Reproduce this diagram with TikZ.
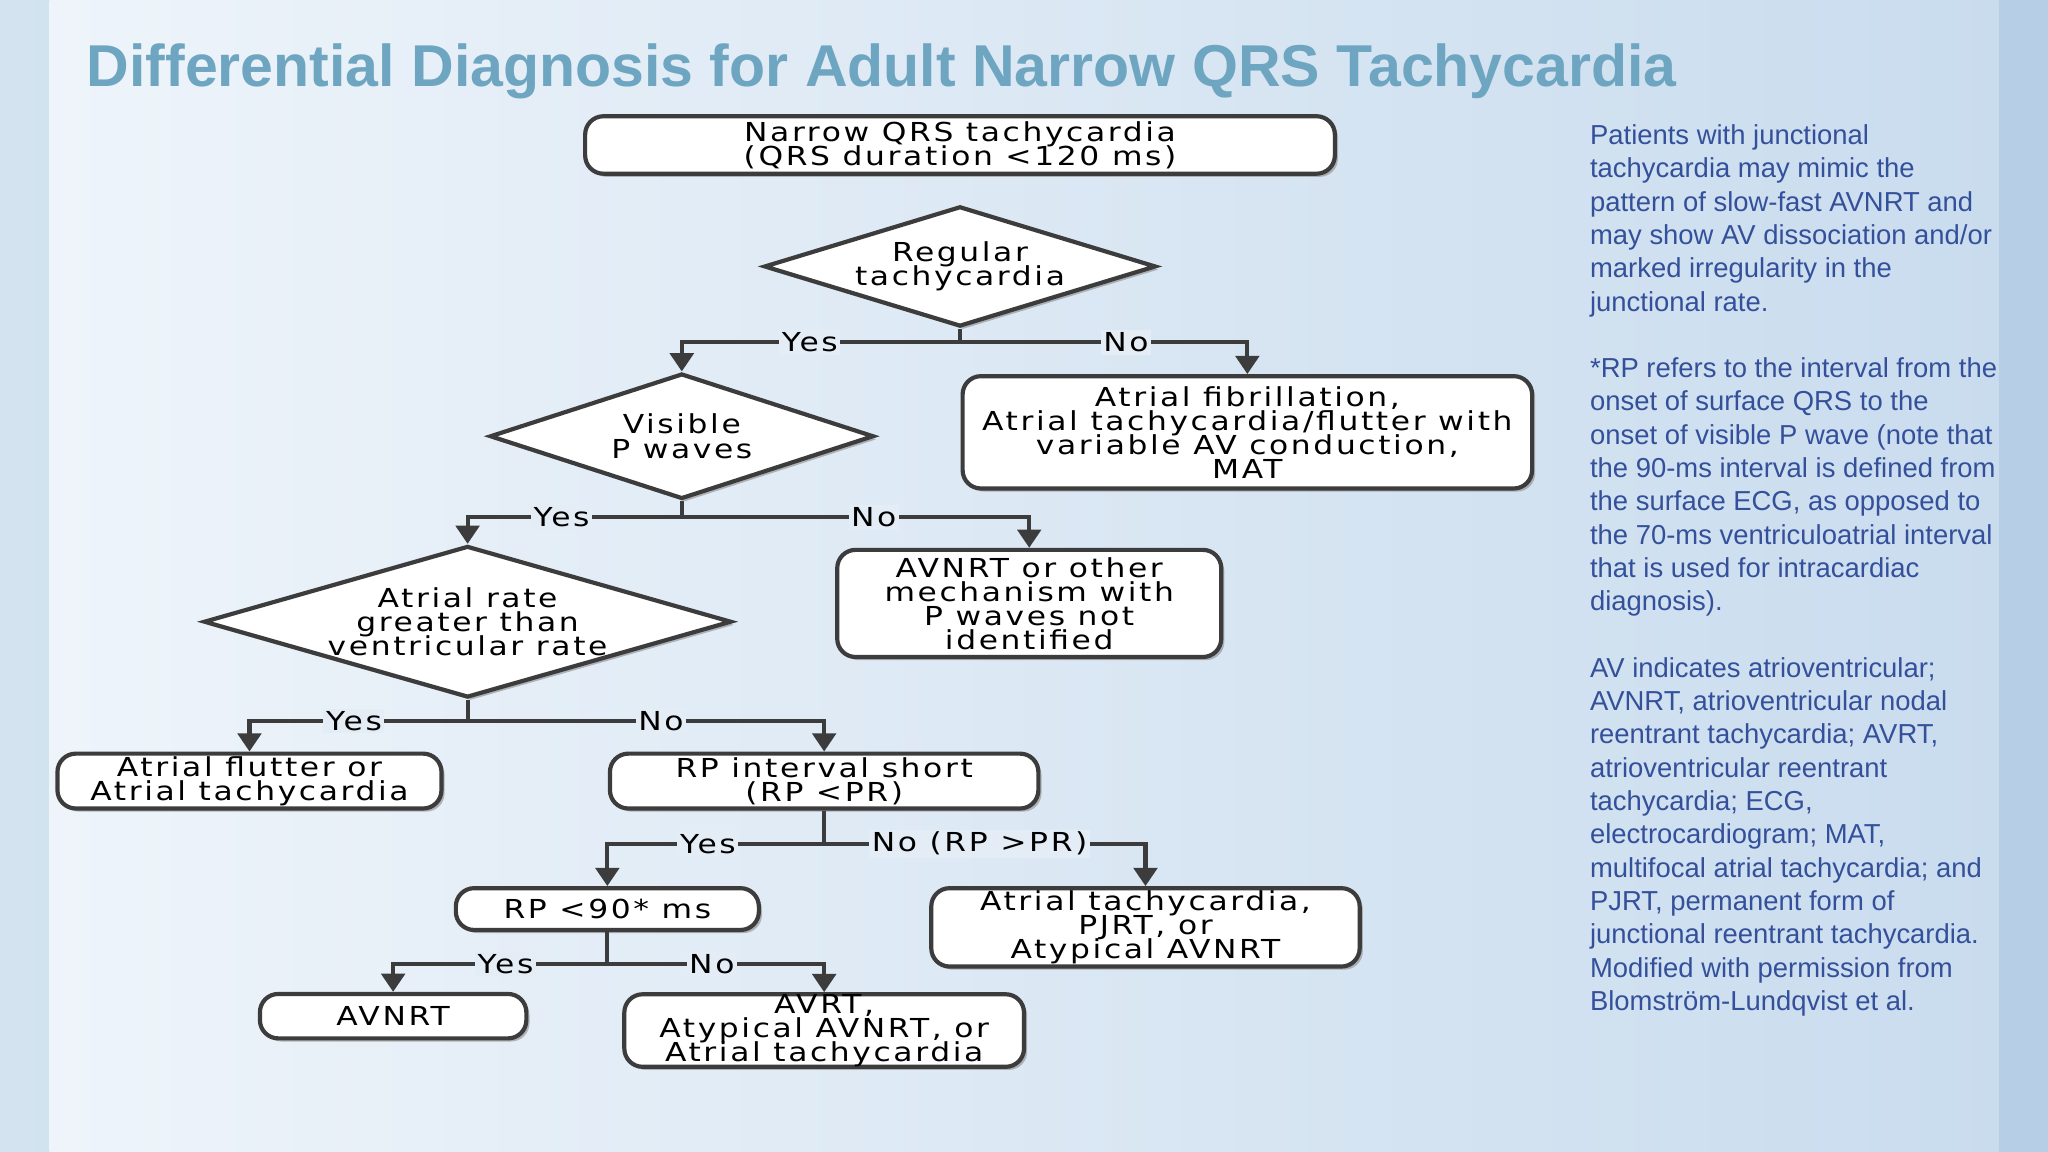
\documentclass[tikz,border=0pt]{standalone}
\usepackage{fontspec}
\setmainfont{Liberation Sans}
\newfontfamily\boxfont[LetterSpace=10,FakeStretch=1.2]{DejaVu Sans}
\newcommand{\myboxfnt}{\boxfont\fontsize{10}{9.2}\selectfont\lineskiplimit=-20pt\relax\lineskip=0pt\relax}
\usetikzlibrary{shapes.geometric,arrows.meta,shadows}
\definecolor{bgA}{HTML}{D3E3F0}
\definecolor{bgB}{HTML}{B6CFE6}
\definecolor{panA}{HTML}{EEF4FA}
\definecolor{panB}{HTML}{C9DCEE}
\definecolor{titlec}{HTML}{6EA6C2}
\definecolor{txtc}{HTML}{34509A}
\definecolor{linec}{HTML}{3C3C3C}
\definecolor{lblbg}{HTML}{E4EDF6}
\tikzset{
  base/.style={draw=linec, line width=1.6pt, fill=white, align=center,
    font=\myboxfnt, inner sep=0pt,
    drop shadow={shadow xshift=1.2pt, shadow yshift=-1.2pt, fill=black!45, opacity=0.6}},
  rbox/.style={base, rectangle, rounded corners=7pt},
  conn/.style={draw=linec, line width=1.6pt},
  arr/.style={conn, -{Triangle[length=7pt,width=9pt]}},
  lbl/.style={fill=lblbg, inner sep=1pt, font=\myboxfnt}
}
\begin{document}
\begin{tikzpicture}[x=0.5pt,y=-0.5pt]
\useasboundingbox (0,0) rectangle (1568,882);
\shade[left color=bgA, right color=bgB] (0,0) rectangle (1568,882);
\shade[left color=panA, right color=panB] (38,0) rectangle (1530,882);
\node[anchor=base west, text=titlec, font=\bfseries\fontsize{22.6}{24}\selectfont, inner sep=0pt] (title) at (66,66) {Differential Diagnosis for Adult Narrow QRS Tachycardia};

\node[rbox, minimum width=287pt, minimum height=22pt] (start) at (735,111) {Narrow QRS tachycardia\\(QRS duration <120 ms)};
\node[base, diamond, minimum width=150pt, minimum height=46pt, aspect=3.2] (d1) at (735,204) {Regular\\tachycardia};
\node[base, diamond, minimum width=147pt, minimum height=48pt, aspect=3.1] (d2) at (522,334) {Visible\\P waves};
\node[rbox, minimum width=218pt, minimum height=43pt] (af) at (955,331) {Atrial fibrillation,\\Atrial tachycardia/flutter with\\variable AV conduction,\\MAT};
\node[base, diamond, minimum width=202pt, minimum height=58pt, aspect=3.5] (d3) at (358,476) {Atrial rate\\greater than\\ventricular rate};
\node[rbox, minimum width=147pt, minimum height=41pt] (avo) at (788,462) {AVNRT or other\\mechanism with\\P waves not\\identified};
\node[rbox, minimum width=147pt, minimum height=21pt] (afl) at (191,598) {Atrial flutter or\\Atrial tachycardia};
\node[rbox, minimum width=164pt, minimum height=21pt] (rp) at (631,598) {RP interval short\\(RP <PR)};
\node[rbox, minimum width=116pt, minimum height=16pt] (rp90) at (465,696) {RP <90* ms};
\node[rbox, minimum width=164pt, minimum height=30pt] (pjrt) at (877,710) {Atrial tachycardia,\\PJRT, or\\Atypical AVNRT};
\node[rbox, minimum width=102pt, minimum height=17pt] (avnrt) at (301,778) {AVNRT};
\node[rbox, minimum width=153pt, minimum height=27pt] (avrt) at (631,789) {AVRT,\\Atypical AVNRT, or\\Atrial tachycardia};

% branches
\coordinate (b1) at (735,262);
\draw[conn] (d1.south) -- (b1);
\draw[arr] (b1) -| (d2.north);
\draw[arr] (b1) -| (af.north);
\node[lbl] (y1) at (620,262) {Yes};
\node[lbl] (n1) at (862,262) {No};

\coordinate (b2) at (522,396);
\draw[conn] (d2.south) -- (b2);
\draw[arr] (b2) -| (d3.north);
\draw[arr] (b2) -| (avo.north);
\node[lbl] (y2) at (430,396) {Yes};
\node[lbl] (n2) at (669,396) {No};

\coordinate (b3) at (358,552);
\draw[conn] (d3.south) -- (b3);
\draw[arr] (b3) -| (afl.north);
\draw[arr] (b3) -| (rp.north);
\node[lbl] (y3) at (271,552) {Yes};
\node[lbl] (n3) at (506,552) {No};

\coordinate (b4) at (631,646);
\draw[conn] (rp.south) -- (b4);
\draw[arr] (b4) -| (rp90.north);
\draw[arr] (b4) -| (pjrt.north);
\node[lbl] (y4) at (542,646) {Yes};
\node[lbl] (n4) at (750,646) {No (RP >PR)};

\coordinate (b5) at (465,738);
\draw[conn] (rp90.south) -- (b5);
\draw[arr] (b5) -| (avnrt.north);
\draw[arr] (b5) -| (avrt.north);
\node[lbl] (y5) at (387,738) {Yes};
\node[lbl] (n5) at (545,738) {No};

\node[anchor=north west, align=left, text=txtc, font=\fontsize{10.5}{12.75}\selectfont, inner sep=0pt] (notes) at (1217,95) {Patients with junctional\\tachycardia may mimic the\\pattern of slow-fast AVNRT and\\may show AV dissociation and/or\\marked irregularity in the\\junctional rate.\\[12.75pt]
*RP refers to the interval from the\\onset of surface QRS to the\\onset of visible P wave (note that\\the 90-ms interval is defined from\\the surface ECG, as opposed to\\the 70-ms ventriculoatrial interval\\that is used for intracardiac\\diagnosis).\\[12.75pt]
AV indicates atrioventricular;\\AVNRT, atrioventricular nodal\\reentrant tachycardia; AVRT,\\atrioventricular reentrant\\tachycardia; ECG,\\electrocardiogram; MAT,\\multifocal atrial tachycardia; and\\PJRT, permanent form of\\junctional reentrant tachycardia.\\Modified with permission from\\Blomström-Lundqvist et al.};
\end{tikzpicture}
\end{document}
